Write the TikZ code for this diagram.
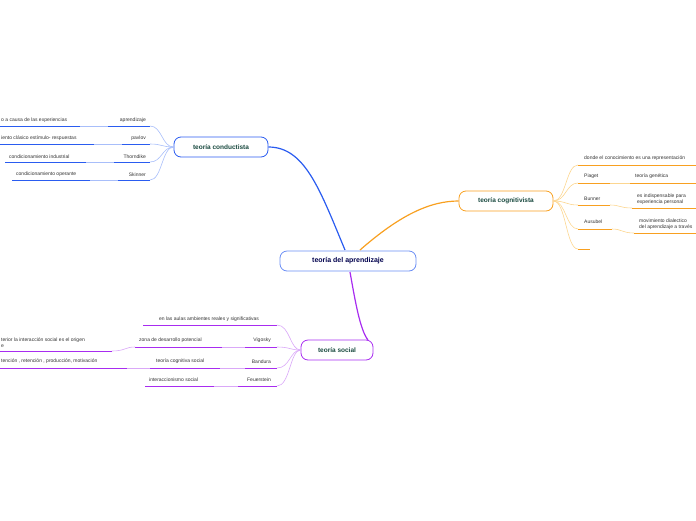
\documentclass[tikz,border=0pt]{standalone}
\usepackage{fontspec}
\setmainfont{Liberation Sans}
\definecolor{cB}{HTML}{2A5CF0}
\definecolor{cBt}{HTML}{A8BEFA}
\definecolor{cO}{HTML}{F8A020}
\definecolor{cOt}{HTML}{FCD690}
\definecolor{cP}{HTML}{A82CF0}
\definecolor{cPt}{HTML}{DAA8F8}
\definecolor{cT}{HTML}{1A4A40}
\begin{document}
\begin{tikzpicture}[x=1pt,y=-1pt,
 lf/.style={font=\fontsize{5}{6}\selectfont,text=black!80,inner sep=1pt},
 ml/.style={font=\fontsize{5}{6}\selectfont,text=black!80,inner sep=1pt,align=left},
 mainbox/.style={draw,line width=0.8pt,rounded corners=7pt,font=\bfseries\fontsize{6.5}{8}\selectfont,text=cT,minimum height=20pt,inner xsep=6pt},
 bl/.style={color=cB,line width=0.9pt},
 blt/.style={color=cBt,line width=0.6pt},
 ol/.style={color=cO,line width=0.9pt},
 olt/.style={color=cOt,line width=0.6pt},
 pl/.style={color=cP,line width=0.9pt},
 plt/.style={color=cPt,line width=0.6pt}]
\useasboundingbox (0,0) rectangle (696,520);
\clip (0,0) rectangle (696,520);
% central
\node[mainbox,draw=cB!70,minimum width=136pt,text=blue!30!black,font=\bfseries\fontsize{7}{8}\selectfont] (c) at (348,261) {teoría del aprendizaje};
\node[mainbox,draw=cB,minimum width=94pt] (tc) at (221,147) {teoría conductista};
\node[mainbox,draw=cO,minimum width=94pt] (tg) at (506,201) {teoría cognitivista};
\node[mainbox,draw=cP,minimum width=72pt] (ts) at (337,350) {teoría social};
\draw[bl,line width=1.2pt] (345,250) .. controls (320,190) and (305,147) .. (tc.east);
\draw[ol,line width=1.2pt] (360,250) .. controls (400,215) and (430,201) .. (tg.west);
\draw[pl,line width=1.2pt] (350,272) .. controls (355,300) and (360,330) .. (368,340);
% conductista leaves
\foreach \y/\a/\ax/\b/\bx/\bs in {126/aprendizaje/108/{o a causa de las experiencias}/0/0,
  144/pavlov/122/{iento clásico estímulo- respuestas}/0/0,
  162/Thorndike/114/{condicionamiento industrial}/8/5,
  180/Skinner/118/{condicionamiento operante}/15/12}{
  \coordinate (e) at (150,\y);
  \draw[bl] (\ax,\y) -- (e);
  \draw[blt] (\ax-28,\y) -- (\ax,\y);
  \draw[bl] (\bs,\y) -- (\ax-28,\y);
  \node[lf,anchor=south east] at (147,\y-2) {\a};
  \node[lf,anchor=south west] at (\bx,\y-2) {\b};
  \draw[blt] (e) .. controls (162,\y) and (162,147) .. (tc.west);
}
% cognitivista leaves
\node[lf,anchor=south west] at (583,162) {donde el conocimiento es una representación};
\draw[ol] (578,165) -- (696,165);
\node[lf,anchor=south west] at (583,180) {Piaget};
\draw[ol] (578,183) -- (610,183); \draw[olt] (610,183)--(630,183); \draw[ol] (630,183) -- (696,183);
\node[lf,anchor=south west] at (634,180) {teoría genética};
\node[lf,anchor=south west] at (583,202) {Bunner};
\draw[ol] (578,205) -- (610,205); \draw[olt] (610,205) .. controls (620,205) and (620,208) .. (632,208); \draw[ol] (632,208) -- (696,208);
\node[ml,anchor=south west] at (636,206) {es indispensable para\\experiencia personal};
\node[lf,anchor=south west] at (583,225) {Ausubel};
\draw[ol] (578,229) -- (612,229); \draw[olt] (612,229) .. controls (622,229) and (622,233) .. (634,233); \draw[ol] (634,233) -- (696,233);
\node[ml,anchor=south west] at (638,231) {movimiento dialectico\\del aprendizaje a través};
\draw[ol] (578,249) -- (590,249);
\foreach \y in {165,183,205,229,249}{
  \draw[olt] (tg.east) .. controls (566,201) and (566,\y) .. (578,\y);
}
% social leaves
\node[lf,anchor=south] at (209,323) {en las aulas ambientes reales y significativas};
\draw[pl] (143,325) -- (277,325);
\node[lf,anchor=south east] at (272,344) {Vigosky};
\draw[pl] (245,347) -- (277,347); \draw[plt] (222,347)--(245,347); \draw[pl] (135,347) -- (222,347);
\node[lf,anchor=south west] at (138,344) {zona de desarrollo potencial};
\draw[plt] (112,351) .. controls (125,351) and (125,347) .. (135,347); \draw[pl] (0,351) -- (112,351);
\node[ml,anchor=south west] at (0,349) {terior la interacción social es el origen\\e};
\node[lf,anchor=south east] at (272,365) {Bandura};
\draw[pl] (245,368) -- (277,368); \draw[plt] (220,368)--(245,368); \draw[pl] (150,368) -- (220,368);
\node[lf,anchor=south west] at (155,365) {teoría cognitiva social};
\draw[plt] (127,368)--(150,368); \draw[pl] (0,368) -- (127,368);
\node[lf,anchor=south west] at (0,365) {tención , retención , producción, motivación};
\node[lf,anchor=south east] at (272,383) {Feuerstein};
\draw[pl] (238,386) -- (277,386); \draw[plt] (214,386)--(238,386); \draw[pl] (145,386) -- (214,386);
\node[lf,anchor=south west] at (148,383) {interaccionismo social};
\foreach \y in {325,347,368,386}{
  \draw[plt] (277,\y) .. controls (290,\y) and (290,350) .. (ts.west);
}
\end{tikzpicture}
\end{document}
